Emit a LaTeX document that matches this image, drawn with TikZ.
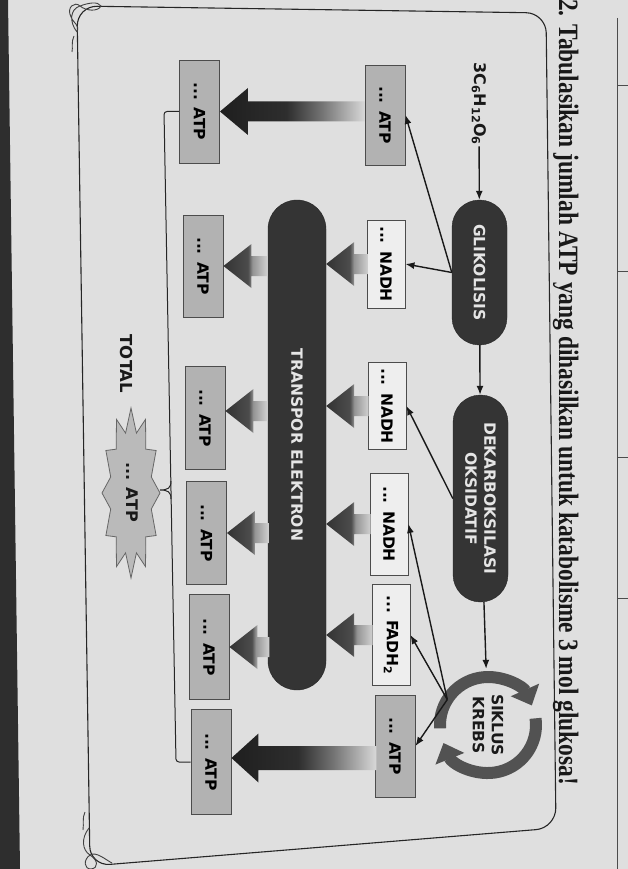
\documentclass[tikz,border=0pt]{standalone}
\usepackage{fontspec}
\setmainfont{DejaVu Sans}
\newfontfamily\titlefont{Liberation Serif}
\usetikzlibrary{shapes.misc,arrows.meta,calc}
\definecolor{pagebg}{RGB}{223,223,223}
\definecolor{boxwhite}{RGB}{238,238,238}
\definecolor{atpgray}{RGB}{178,178,178}
\definecolor{pilldark}{RGB}{52,52,52}
\pgfdeclarehorizontalshading{bigfade}{100bp}{color(0bp)=(black!88); color(25bp)=(black!88); color(48bp)=(black!82); color(60bp)=(black!55); color(75bp)=(black!15); color(100bp)=(black!15)}
\pgfdeclarehorizontalshading{smallfade}{100bp}{color(0bp)=(black!80); color(25bp)=(black!80); color(53bp)=(black!70); color(58bp)=(black!42); color(75bp)=(black!18); color(100bp)=(black!18)}
\newcommand{\smallarr}[2]{\shade[shading=smallfade] #1 -- ++(28,-22) -- ++(0,12) -- ++(#2,0) -- ++(0,20) -- ++(-#2,0) -- ++(0,12) -- cycle;}
\tikzset{
  lab/.style={font=\bfseries\fontsize{15.5}{19}\selectfont},
  atpbox/.style={rectangle, draw=black!70, line width=0.9pt, fill=atpgray, rotate=-90, minimum height=40pt, inner sep=0pt, lab},
  nadhbox/.style={rectangle, draw=black!70, line width=0.9pt, fill=boxwhite, rotate=-90, minimum height=38pt, inner sep=0pt, lab},
  pill/.style={rounded rectangle, fill=pilldark, draw=black!85, text=white!90!black, rotate=-90, inner sep=0pt, lab, align=center},
  conn/.style={line width=1.4pt, black!90, -{Latex[length=9pt,width=7pt]}},
  ring/.style={line width=12pt, black!68, -{Triangle[width=30pt,length=17pt]}},
  orn/.style={black!75, line width=0.9pt},
}
\begin{document}
\begin{tikzpicture}[x=1pt,y=-1pt]
\useasboundingbox (0,0) rectangle (628,869);
\clip (0,0) rectangle (628,869);
\fill[pagebg] (0,0) rectangle (628,869);
\fill[black!82] (0,0) -- (8,0) -- (20,869) -- (0,869) -- cycle;
% lines of the neighbouring table
\draw[black!70, line width=1pt] (617,18) -- (617,869);
\foreach \yy in {86,271,457,598} \draw[black!70, line width=1pt] (617,\yy) -- (628,\yy);
% frame
\draw[black!85, line width=1.1pt, rounded corners=20pt] (77,6) -- (546,13) -- (556,828) -- (90,866) -- cycle;
\draw[orn] (77,32) .. controls (69,22) and (70,9) .. (80,6) .. controls (88,3) and (98,1) .. (101,6) .. controls (98,12) and (86,11) .. (80,6) .. controls (75,1) and (66,7) .. (71,17) .. controls (74,24) and (80,25) .. (77,32);
\draw[orn] (74,36) .. controls (71,42) and (73,48) .. (72,52);
\draw[orn] (89,828) .. controls (81,838) and (82,850) .. (90,855) .. controls (98,860) and (99,868) .. (91,869) .. controls (84,869) and (83,860) .. (90,855) .. controls (96,851) and (106,860) .. (112,863);
\draw[orn] (85,812) .. controls (82,818) and (84,824) .. (83,830);
% title
\node[rotate=-90, anchor=base west, inner sep=0pt, text=black!90] (title) at (559,-1) {\resizebox{786pt}{\height}{\titlefont\bfseries\fontsize{28}{30}\selectfont 2. Tabulasikan jumlah ATP yang dihasilkan untuk katabolisme 3 mol glukosa!}};
% main column
\node[rotate=-90, font=\bfseries\fontsize{16}{18}\selectfont, inner sep=1pt, text=black!90] (formula) at (479,104) {3C\textsubscript{6}H\textsubscript{12}O\textsubscript{6}};
\node[pill, minimum width=145pt, minimum height=55pt] (gly) at (479.5,272.5) {GLIKOLISIS};
\node[pill, minimum width=207pt, minimum height=55pt] (dek) at (480.5,498.5) {DEKARBOKSILASI\\OKSIDATIF};
\node[circle, minimum size=112pt, inner sep=0pt, rotate=-90, lab, align=center, text=black!90] (krebs) at (488,725) {SIKLUS\\KREBS};
\draw[ring] ($(krebs.center)+(176:48)$) arc[start angle=176, end angle=336, radius=48];
\draw[ring] ($(krebs.center)+(352:48)$) arc[start angle=352, end angle=518, radius=48];
% products column
\node[atpbox, minimum width=100pt] (atpA) at (385,115) {... ATP};
\node[nadhbox, minimum width=88pt] (nadhA) at (386,264) {... NADH};
\node[nadhbox, minimum width=87pt] (nadhB) at (387,406) {... NADH};
\node[nadhbox, minimum width=102pt] (nadhC) at (389,524) {... NADH};
\node[nadhbox, minimum width=101pt] (fadh) at (391,635) {... FADH\textsubscript{2}};
\node[atpbox, minimum width=102pt] (atpB) at (395,746) {... ATP};
% transport
\node[pill, minimum width=490pt, minimum height=58pt] (trans) at (297,445) {TRANSPOR ELEKTRON};
% ATP column
\node[atpbox, minimum width=103pt] (L1) at (199.5,111.5) {... ATP};
\node[atpbox, minimum width=102pt] (L2) at (203,266) {... ATP};
\node[atpbox, minimum width=103pt] (L3) at (205,418) {... ATP};
\node[atpbox, minimum width=103pt] (L4) at (206.5,533) {... ATP};
\node[atpbox, minimum width=105pt] (L5) at (209,647) {... ATP};
\node[atpbox, minimum width=105pt] (L6) at (211,762) {... ATP};
% thin connectors
\draw[conn] (formula) -- (gly);
\draw[conn] (gly) -- (dek);
\draw[conn] (dek) -- (krebs);
\draw[conn] (gly.south) -- (atpA.north);
\draw[conn] (gly.south) -- (nadhA.north);
\draw[conn] (dek.south) -- (nadhB.north);
\coordinate (kst) at ($(krebs.center)+(212:48)$);
\draw[conn] (kst) -- (nadhC.north);
\draw[conn] (kst) -- (fadh.north);
\draw[conn] (kst) -- (atpB.north);
% big arrows
\shade[shading=bigfade] (L1.north) -- ++(28,-23.5) -- ++(0,13.5) -- ++(117,0) -- ++(0,20) -- ++(-117,0) -- ++(0,13.5) -- cycle;
\shade[shading=bigfade] ($(L6.north)+(0,-4)$) -- ++(27,-24.5) -- ++(0,12.5) -- ++(118,0) -- ++(0,24) -- ++(-118,0) -- ++(0,12.5) -- cycle;
% small arrows
\smallarr{(trans.north |- nadhA.center)}{14}
\smallarr{(L2.north)}{16}
\smallarr{(trans.north |- nadhB.center)}{14.5}
\smallarr{($(L3.north)+(0,-7)$)}{14}
\smallarr{(trans.north |- nadhC.center)}{16.5}
\smallarr{(L4.north)}{14}
\smallarr{(trans.north |- fadh.center)}{18.5}
\smallarr{(L5.north)}{12}
% bracket
\coordinate (brT) at (164,111.5);
\coordinate (brB) at (176,762);
\draw[black!85, line width=1pt, rounded corners=3pt] (L1.south) -- (brT) -- (brB) -- (L6.south);
\coordinate (brTip) at (160,490);
\draw[black!85, line width=1pt] (171,481) .. controls (171,488) and (168,490) .. (brTip) .. controls (168,490) and (171,492) .. (171,499);
% total
\filldraw[fill=black!27, draw=black!60, line width=0.8pt] (160,493) \foreach \k in {1,...,23} { -- ({131+(mod(\k,2)==0 ? 29 : 21)*cos(\k*15)}, {493+(mod(\k,2)==0 ? 85 : 62)*sin(\k*15)}) } -- cycle;
\node[rotate=-90, lab, font=\bfseries\fontsize{16}{18}\selectfont, inner sep=0pt, text=black!90] (totalatp) at (132,492) {... ATP};
\node[rotate=-90, font=\bfseries\fontsize{16.5}{18}\selectfont, text=black!90] (total) at (127,364) {TOTAL};
\end{tikzpicture}
\end{document}
